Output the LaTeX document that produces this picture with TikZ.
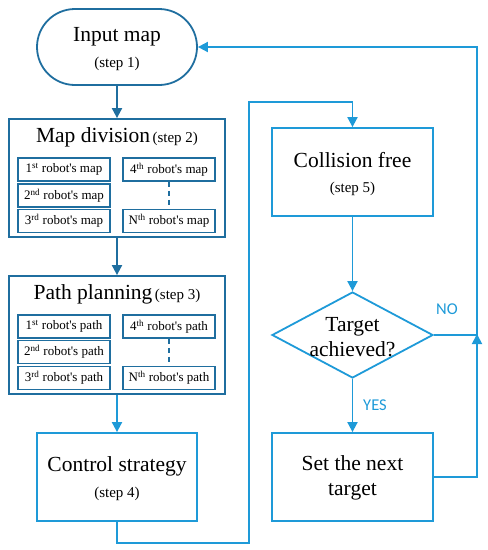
\documentclass[tikz,border=0pt]{standalone}
\usepackage{fontspec}
\setmainfont{Liberation Serif}
\newfontfamily\subfont{Liberation Serif}
\newfontfamily\yesnofont{Carlito}
\usetikzlibrary{arrows.meta,shapes.geometric}
\definecolor{dkblue}{HTML}{1F6E9F}
\definecolor{brblue}{HTML}{1E9AD8}
\tikzset{
  dkbox/.style={draw=dkblue, line width=1.8pt, rectangle, inner sep=0pt},
  brbox/.style={draw=brblue, line width=1.8pt, rectangle, inner sep=0pt},
  subbox/.style={draw=dkblue, line width=1.8pt, rectangle, inner sep=0pt, minimum width=92pt, minimum height=23pt, font=\subfont\fontsize{13}{15}\selectfont},
  bigtxt/.style={inner sep=0pt, font=\fontsize{21.5}{25}\selectfont},
  steptxt/.style={inner sep=0pt, font=\fontsize{15}{18}\selectfont},
  dkline/.style={draw=dkblue, line width=1.8pt},
  brline/.style={draw=brblue, line width=1.8pt},
  tip/.style={-{Triangle[length=10pt,width=10pt]}},
  yn/.style={inner sep=0pt, text=brblue, font=\yesnofont\fontsize{16.5}{19}\selectfont}
}
\begin{document}
\begin{tikzpicture}[x=1pt,y=-1pt]
\useasboundingbox (0,0) rectangle (488,550);
% Input map
\node[dkbox, rounded corners=38pt, minimum width=160pt, minimum height=76pt] (input) at (117,47) {};
\node[bigtxt] (inputT) at (117,37) {Input map};
\node[steptxt] (inputS) at (117,64) {(step 1)};
% Map division
\node[dkbox, minimum width=216pt, minimum height=118pt] (mapdiv) at (117,178) {};
\node[inner sep=0pt] (mapdivT) at (117,137) {{\fontsize{21.5}{25}\selectfont Map division} {\fontsize{15}{18}\selectfont (step 2)}};
\node[subbox] (m1) at (64,169.5) {1\textsuperscript{st} robot's map};
\node[subbox] (m2) at (64,195.5) {2\textsuperscript{nd} robot's map};
\node[subbox] (m3) at (64,221) {3\textsuperscript{rd} robot's map};
\node[subbox] (m4) at (169,169.5) {4\textsuperscript{th} robot's map};
\node[subbox] (mN) at (169,221) {N\textsuperscript{th} robot's map};
\draw[dkline, dash pattern=on 5pt off 4pt] (m4.south) -- (mN.north);
% Path planning
\node[dkbox, minimum width=216pt, minimum height=118pt] (path) at (117,335) {};
\node[inner sep=0pt] (pathT) at (117,294) {{\fontsize{21.5}{25}\selectfont Path planning} {\fontsize{15}{18}\selectfont (step 3)}};
\node[subbox] (p1) at (64,326.5) {1\textsuperscript{st} robot's path};
\node[subbox] (p2) at (64,352) {2\textsuperscript{nd} robot's path};
\node[subbox] (p3) at (64,378) {3\textsuperscript{rd} robot's path};
\node[subbox] (p4) at (169,326.5) {4\textsuperscript{th} robot's path};
\node[subbox] (pN) at (169,378) {N\textsuperscript{th} robot's path};
\draw[dkline, dash pattern=on 5pt off 4pt] (p4.south) -- (pN.north);
% Control strategy
\node[brbox, minimum width=160pt, minimum height=88pt] (control) at (117,477) {};
\node[bigtxt] (controlT) at (117,466) {Control strategy};
\node[steptxt] (controlS) at (117,494) {(step 4)};
% Collision free
\node[brbox, minimum width=161pt, minimum height=88pt] (coll) at (352.5,172) {};
\node[bigtxt] (collT) at (352.5,160) {Collision free};
\node[steptxt] (collS) at (352.5,189) {(step 5)};
% Diamond
\node[draw=brblue, line width=1.8pt, diamond, inner sep=0pt, minimum width=161pt, minimum height=86pt] (dec) at (352.5,335) {};
\node[bigtxt, align=center] (decT) at (352.5,337) {Target\\achieved?};
% Set the next target
\node[brbox, minimum width=161pt, minimum height=88pt] (setb) at (352.5,477) {};
\node[bigtxt, align=center] (setT) at (352.5,478) {Set the next\\target};
% connectors
\coordinate (j) at (477,335);
\coordinate (br) at (249,543);
\coordinate (tl) at (249,102);
\draw[dkline, tip] (input.south) -- (mapdiv.north);
\draw[dkline, tip] (mapdiv.south) -- (path.north);
\draw[brline, tip] (path.south) -- (control.north);
\draw[brline, tip] (control.south) |- (br) -- (tl) -| (coll.north);
\draw[brline, tip] (coll.south) -- (dec.north);
\draw[brline, tip] (dec.south) -- (setb.north);
\draw[brline, tip] (dec.east) -- (j) |- (input.east);
\draw[brline, tip] (setb.east) -| ([yshift=1pt]j);
\node[yn] (yes) at (375,405) {YES};
\node[yn] (no) at (447,309) {NO};
\end{tikzpicture}
\end{document}
